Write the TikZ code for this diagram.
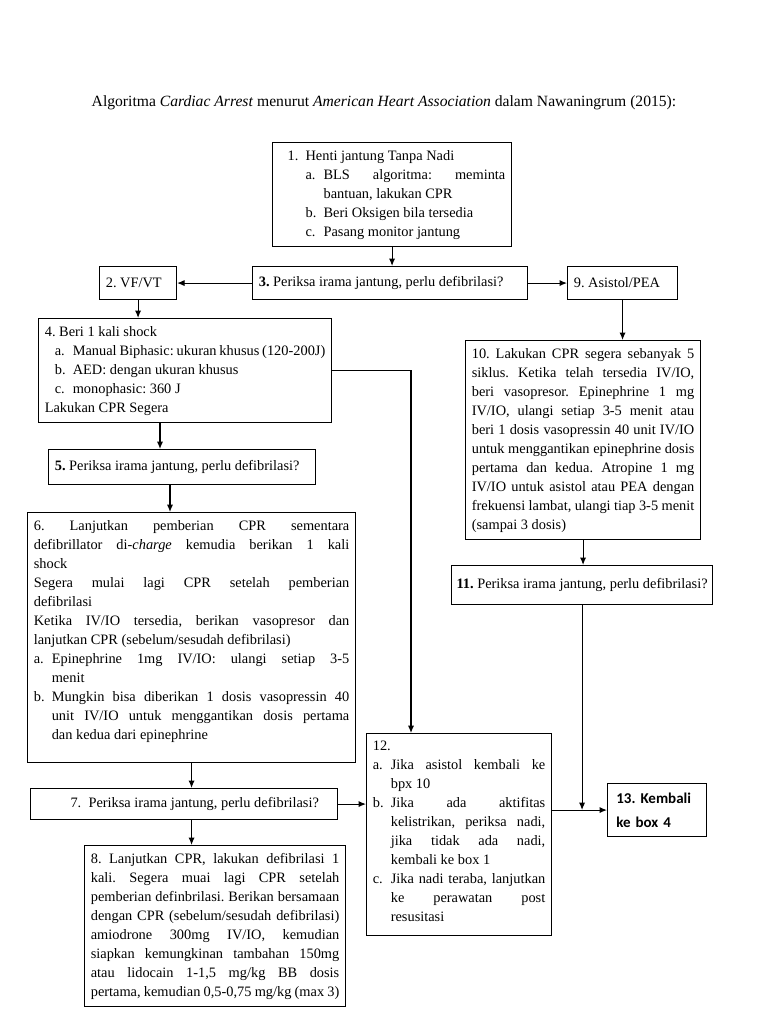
\documentclass[tikz,border=0pt]{standalone}
\usepackage{fontspec}
\setmainfont{Liberation Serif}
\newfontfamily\kalibri{Carlito}
\usetikzlibrary{arrows.meta}
\setlength{\parindent}{0pt}
\frenchspacing
\newcommand{\butir}[3]{\leftskip=#1\hangindent=14.4pt\hangafter=1\noindent\makebox[14.4pt][l]{#2}#3\par}
\newcommand{\polos}[1]{\leftskip=0pt\hangindent=0pt\noindent #1\par}

\begin{document}
\begin{tikzpicture}[x=0.8pt,y=-0.8pt,
  kotak/.style={draw,line width=0.9pt,anchor=north west,inner xsep=5pt,inner ysep=6pt,align=justify,font=\fontsize{11.5}{15.2}\selectfont},
  panah/.style={line width=0.9pt,-{Latex[length=6pt,width=5pt]}}]
\useasboundingbox (0,0) rectangle (768,1024);

\node[font=\fontsize{12.5}{15.2}\selectfont] (judul) at (384,103) {Algoritma \textit{Cardiac Arrest} menurut \textit{American Heart Association} dalam Nawaningrum (2015):};

% kotak 1
\node[kotak,text width=181.2pt] (b1) at (272,142) {%
\butir{7pt}{1.}{Henti jantung Tanpa Nadi}
\butir{21.4pt}{a.}{BLS algoritma: meminta\linebreak bantuan, lakukan CPR}
\butir{21.4pt}{b.}{Beri Oksigen bila tersedia}
\butir{21.4pt}{c.}{Pasang monitor jantung}};

% baris kedua
\node[kotak,text width=51.6pt,minimum height=26.4pt] (b2) at (99,266) {2. VF/VT};
\node[kotak,text width=210pt,minimum height=26.4pt] (b3) at (252,266) {\textbf{3.} Periksa irama jantung, perlu defibrilasi?};
\node[kotak,text width=78pt,minimum height=26.4pt] (b9) at (567,266) {9. Asistol/PEA};

% cabang kiri
\node[kotak,text width=224.4pt,minimum height=82.4pt] (b4) at (38,318) {%
\polos{4. Beri 1 kali shock}
\butir{8pt}{a.}{Manual Biphasic: ukuran khusus (120-200J)}
\butir{8pt}{b.}{AED: dengan ukuran khusus}
\butir{8pt}{c.}{monophasic: 360 J}
\polos{Lakukan CPR Segera}};
\node[kotak,text width=203.6pt,minimum height=28pt] (b5) at (48,449) {\textbf{5.} Periksa irama jantung, perlu defibrilasi?};
\node[kotak,text width=252.4pt] (b6) at (27,512) {%
\polos{6. Lanjutkan pemberian CPR sementara\linebreak defibrillator di-\textit{charge} kemudia berikan 1 kali\linebreak shock}
\polos{Segera mulai lagi CPR setelah pemberian\linebreak defibrilasi}
\polos{Ketika IV/IO tersedia, berikan vasopresor dan\linebreak lanjutkan CPR (sebelum/sesudah defibrilasi)}
\butir{0pt}{a.}{Epinephrine 1mg IV/IO: ulangi setiap 3-5\linebreak menit}
\butir{0pt}{b.}{Mungkin bisa diberikan 1 dosis vasopressin 40\linebreak unit IV/IO untuk menggantikan dosis pertama\linebreak dan kedua dari epinephrine\rule[-13pt]{0pt}{1pt}}};
\node[kotak,text width=235.6pt,minimum height=24.8pt] (b7) at (30,788) {\butir{27pt}{7.}{Periksa irama jantung, perlu defibrilasi?}};
\node[kotak,text width=198.8pt] (b8) at (84,845) {%
8. Lanjutkan CPR, lakukan defibrilasi 1\linebreak kali. Segera muai lagi CPR setelah\linebreak pemberian definbrilasi. Berikan bersamaan\linebreak dengan CPR (sebelum/sesudah defibrilasi)\linebreak amiodrone 300mg IV/IO, kemudian\linebreak siapkan kemungkinan tambahan 150mg\linebreak atau lidocain 1-1,5 mg/kg BB dosis\linebreak pertama, kemudian 0,5-0,75 mg/kg (max 3)};

% cabang kanan
\node[kotak,text width=178pt] (b10) at (465,340) {%
10. Lakukan CPR segera sebanyak 5\linebreak siklus. Ketika telah tersedia IV/IO,\linebreak beri vasopresor. Epinephrine 1 mg\linebreak IV/IO, ulangi setiap 3-5 menit atau\linebreak beri 1 dosis vasopressin 40 unit IV/IO\linebreak untuk menggantikan epinephrine dosis\linebreak pertama dan kedua. Atropine 1 mg\linebreak IV/IO untuk asistol atau PEA dengan\linebreak frekuensi lambat, ulangi tiap 3-5 menit\linebreak (sampai 3 dosis)};
\node[draw,line width=0.9pt,anchor=north west,inner sep=0pt,minimum width=208.8pt,minimum height=31.2pt,font=\fontsize{11.5}{15.2}\selectfont] (b11) at (451,565) {\textbf{11.} Periksa irama jantung, perlu defibrilasi?};
\node[kotak,text width=138pt] (b12) at (366,733) {%
\polos{12.}
\butir{0pt}{a.}{Jika asistol kembali ke\linebreak bpx 10}
\butir{0pt}{b.}{Jika ada aktifitas\linebreak kelistrikan, periksa nadi,\linebreak jika tidak ada nadi,\linebreak kembali ke box 1}
\butir{0pt}{c.}{Jika nadi teraba, lanjutkan\linebreak ke perawatan post\linebreak resusitasi\rule[-5pt]{0pt}{1pt}}};
\node[kotak,text width=65.2pt,inner xsep=7pt,minimum height=42.4pt,align=left,font=\kalibri\bfseries\fontsize{12}{19}\selectfont] (b13) at (607,783) {13. Kembali\\ke box 4};

% panah
\draw[panah] (b1.south) -- (b1.south |- b3.north);
\draw[panah] (b3.west) -- (b2.east);
\draw[panah] (b3.east) -- (b9.west);
\draw[panah] (b2.south) -- (b2.south |- b4.north);
\coordinate (t4) at ([xshift=97.6pt]b4.south west);
\draw[panah] (t4) -- (t4 |- b5.north);
\draw[panah] (b4.east) -| ([xshift=36pt]b12.north west);
\coordinate (t5) at ([xshift=97.6pt]b5.south west);
\draw[panah] (t5) -- (t5 |- b6.north);
\draw[panah] (b6.south) -- (b6.south |- b7.north);
\draw[panah] (b6.south |- b7.south) -- (b6.south |- b8.north);
\draw[panah] (b7.east) -- (b7.east -| b12.west);
\draw[panah] (b9.south) -- (b9.south |- b10.north);
\draw[panah] (b10.south) -- (b10.south |- b11.north);
\draw[panah] (b11.south) -- (b11.south |- b13.west);
\draw[panah] (b12.east |- b13.west) -- (b13.west);
\end{tikzpicture}
\end{document}
